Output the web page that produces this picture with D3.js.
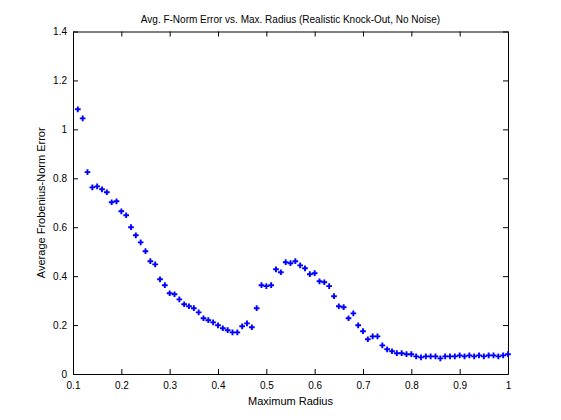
<!DOCTYPE html>
<html>
<head>
<meta charset="utf-8">
<script src="https://cdn.jsdelivr.net/npm/d3@7"></script>
<style>
  body { margin: 0; background: #fff; }
  svg { display: block; }
  text { font-family: "Liberation Sans", "DejaVu Sans", sans-serif; font-size: 10px; fill: #000; }
</style>
</head>
<body>
<div id="chart"></div>
<script>
// Average F-norm error per max radius (0.11 .. 1.00 step 0.01)
const radius = d3.range(11, 101).map(i => i / 100);
const avgError = [
  1.082, 1.045, 0.825, 0.763, 0.767, 0.755, 0.743, 0.702, 0.706, 0.665,
  0.649, 0.600, 0.567, 0.538, 0.502, 0.461, 0.448, 0.387, 0.363, 0.330,
  0.326, 0.305, 0.285, 0.277, 0.269, 0.252, 0.228, 0.220, 0.211, 0.199,
  0.187, 0.179, 0.170, 0.170, 0.195, 0.207, 0.191, 0.269, 0.363, 0.359,
  0.363, 0.428, 0.416, 0.457, 0.453, 0.461, 0.444, 0.432, 0.408, 0.412,
  0.379, 0.375, 0.359, 0.318, 0.277, 0.273, 0.228, 0.248, 0.199, 0.175,
  0.142, 0.154, 0.154, 0.117, 0.101, 0.093, 0.085, 0.085, 0.081, 0.081,
  0.072, 0.068, 0.072, 0.072, 0.072, 0.064, 0.072, 0.072, 0.072, 0.076,
  0.072, 0.076, 0.072, 0.076, 0.072, 0.076, 0.076, 0.072, 0.076, 0.081
];
const xTicks = [0.1, 0.2, 0.3, 0.4, 0.5, 0.6, 0.7, 0.8, 0.9, 1];
const yTicks = [0, 0.2, 0.4, 0.6, 0.8, 1, 1.2, 1.4];

const W = 561, H = 420;
const margin = { top: 31.5, right: 53, bottom: 46, left: 73 };
const width = W - margin.left - margin.right;
const height = H - margin.top - margin.bottom;

const svg = d3.select("#chart").append("svg")
    .attr("width", W)
    .attr("height", H);

const g = svg.append("g")
    .attr("transform", `translate(${margin.left},${margin.top})`);

const x = d3.scaleLinear().domain([0.1, 1]).range([0, width]);
const y = d3.scaleLinear().domain([0, 1.4]).range([height, 0]);

// MATLAB style: ticks point inward, box on
const fmt = d => String(d);
const tickLen = 5;

g.append("g")
    .attr("transform", `translate(0,${height})`)
    .call(d3.axisBottom(x).tickValues(xTicks).tickFormat(fmt).tickSizeInner(-tickLen).tickSizeOuter(0).tickPadding(8));
g.append("g")
    .call(d3.axisTop(x).tickValues(xTicks).tickFormat("").tickSizeInner(-tickLen).tickSizeOuter(0));
g.append("g")
    .call(d3.axisLeft(y).tickValues(yTicks).tickFormat(fmt).tickSizeInner(-tickLen).tickSizeOuter(0).tickPadding(6));
g.append("g")
    .attr("transform", `translate(${width},0)`)
    .call(d3.axisRight(y).tickValues(yTicks).tickFormat("").tickSizeInner(-tickLen).tickSizeOuter(0));

g.selectAll(".domain").attr("stroke", "#000");
g.selectAll(".tick line").attr("stroke", "#000");
g.selectAll(".tick text").style("font-size", "10px");

// data points
g.selectAll(".pt")
    .data(radius.map((r, i) => [r, avgError[i]]))
    .join("path")
    .attr("class", "pt")
    .attr("d", d3.symbol(d3.symbolCross, 18))
    .attr("transform", d => `translate(${x(d[0])},${y(d[1])})`)
    .attr("fill", "#0000ff");

// labels
svg.append("text")
    .attr("x", margin.left + width / 2)
    .attr("y", 23)
    .attr("text-anchor", "middle")
    .text("Avg. F-Norm Error vs. Max. Radius (Realistic Knock-Out, No Noise)");

svg.append("text")
    .attr("x", margin.left + width / 2)
    .attr("y", 405)
    .attr("text-anchor", "middle")
    .style("font-size", "11px")
    .text("Maximum Radius");

svg.append("text")
    .attr("transform", `translate(45,${margin.top + height / 2}) rotate(-90)`)
    .attr("text-anchor", "middle")
    .style("font-size", "11px")
    .text("Average Frobenius-Norm Error");
</script>
</body>
</html>
